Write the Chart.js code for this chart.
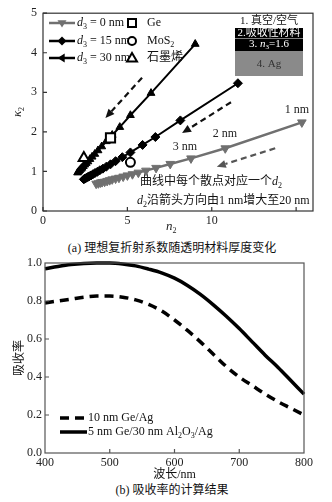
<!DOCTYPE html>
<html>
<head>
<meta charset="utf-8">
<script src="https://cdn.jsdelivr.net/npm/chart.js@4.4.1/dist/chart.umd.min.js"></script>
<style>
  body { margin: 0; background: #fff; width: 332px; height: 502px; position: relative; overflow: hidden;
         font-family: "Liberation Serif", "Noto Sans CJK SC", serif; color: #111; }
  canvas { position: absolute; left: 0; }
  #chartA { top: 0; }
  #chartB { top: 250px; }
  .cap { position: absolute; left: 6px; width: 332px; text-align: center; font-size: 12px; line-height: 14px; }
</style>
</head>
<body>
<div class="cap" style="top:241px">(a) 理想复折射系数随透明材料厚度变化</div>
<div class="cap" style="top:483px">(b) 吸收率的计算结果</div>
<canvas id="chartA" width="332" height="240"></canvas>
<canvas id="chartB" width="332" height="235"></canvas>
<script>
const serif = '"Liberation Serif", "Noto Sans CJK SC", serif';

// (a) n2 / k2 for d2 = 1 ... 20 nm, one pair of arrays per d3
const n2_d0 = [15.34, 10.8, 8.77, 7.54, 6.7, 6.1, 5.65, 5.3, 5.0, 4.75, 4.5, 4.3, 4.1, 3.95, 3.8, 3.65, 3.5, 3.4, 3.28, 3.15];
const k2_d0 = [2.24, 1.585, 1.33, 1.19, 1.09, 1.02, 0.97, 0.93, 0.9, 0.87, 0.84, 0.82, 0.8, 0.78, 0.76, 0.74, 0.73, 0.72, 0.7, 0.69];
const n2_d15 = [11.55, 8.14, 6.66, 5.9, 5.18, 4.7, 4.3, 4.0, 3.75, 3.55, 3.37, 3.22, 3.08, 2.96, 2.85, 2.75, 2.66, 2.57, 2.49, 2.42];
const k2_d15 = [3.23, 2.29, 1.87, 1.67, 1.48, 1.36, 1.26, 1.18, 1.12, 1.07, 1.03, 0.99, 0.96, 0.93, 0.9, 0.88, 0.86, 0.84, 0.82, 0.8];
const n2_d30 = [9.02, 6.4, 5.18, 4.55, 4.1, 3.75, 3.48, 3.26, 3.07, 2.91, 2.78, 2.66, 2.56, 2.47, 2.39, 2.31, 2.24, 2.17, 2.11, 2.05];
const k2_d30 = [4.22, 2.98, 2.42, 2.12, 1.92, 1.76, 1.63, 1.53, 1.44, 1.37, 1.31, 1.25, 1.21, 1.17, 1.13, 1.09, 1.06, 1.03, 1.0, 0.97];

// real materials
const materials = ["Ge", "MoS2", "石墨烯"];
const matN = [4.0, 5.18, 2.42];
const matK = [1.85, 1.23, 1.34];

// (b) absorbance vs wavelength
const wavelength = [400, 420, 440, 460, 480, 500, 520, 540, 560, 580, 600, 620, 640, 660, 680, 700, 720, 740, 760, 780, 800];
const absGeAg = [0.79, 0.8, 0.81, 0.82, 0.826, 0.826, 0.82, 0.806, 0.782, 0.748, 0.7, 0.645, 0.585, 0.52, 0.455, 0.4, 0.355, 0.31, 0.27, 0.235, 0.2];
const absGeAlAg = [0.97, 0.982, 0.992, 0.998, 1.0, 1.0, 0.995, 0.985, 0.968, 0.948, 0.92, 0.882, 0.835, 0.78, 0.72, 0.655, 0.585, 0.515, 0.45, 0.38, 0.31];

const pts = (xs, ys) => xs.map((v, i) => ({ x: v, y: ys[i] }));

// text with italic / subscript pieces: [text, 'i' | 's' | '']
function rich(ctx, parts, x, y, size, color, center) {
  const fonts = parts.map(([t, f]) =>
    (f === "i" ? "italic " : "") + (f === "s" ? Math.round(size * 0.65) : size) + "px " + serif);
  let w = 0;
  parts.forEach(([t], i) => { ctx.font = fonts[i]; w += ctx.measureText(t).width; });
  let cx = center ? x - w / 2 : x;
  ctx.fillStyle = color;
  ctx.textBaseline = "middle";
  ctx.textAlign = "left";
  parts.forEach(([t, f], i) => {
    ctx.font = fonts[i];
    ctx.fillText(t, cx, f === "s" ? y + size * 0.3 : y);
    cx += ctx.measureText(t).width;
  });
}

function marker(ctx, style, x, y, r, fill, stroke, lw) {
  ctx.save();
  ctx.beginPath();
  if (style === "rect") ctx.rect(x - r, y - r, 2 * r, 2 * r);
  else if (style === "circle") ctx.arc(x, y, r, 0, Math.PI * 2);
  else if (style === "diamond") {
    ctx.moveTo(x, y - r); ctx.lineTo(x + r, y); ctx.lineTo(x, y + r); ctx.lineTo(x - r, y); ctx.closePath();
  } else if (style === "down") {
    ctx.moveTo(x - r, y - r * 0.6); ctx.lineTo(x + r, y - r * 0.6); ctx.lineTo(x, y + r); ctx.closePath();
  } else if (style === "up") {
    ctx.moveTo(x - r, y + r * 0.7); ctx.lineTo(x + r, y + r * 0.7); ctx.lineTo(x, y - r); ctx.closePath();
  } else if (style === "left") {
    ctx.moveTo(x + r * 0.6, y - r); ctx.lineTo(x + r * 0.6, y + r); ctx.lineTo(x - r, y); ctx.closePath();
  }
  if (fill) { ctx.fillStyle = fill; ctx.fill(); }
  if (stroke) { ctx.strokeStyle = stroke; ctx.lineWidth = lw; ctx.stroke(); }
  ctx.restore();
}

function dashedArrow(ctx, x1, y1, x2, y2, color) {
  const ang = Math.atan2(y2 - y1, x2 - x1);
  const bx = x2 - 9 * Math.cos(ang), by = y2 - 9 * Math.sin(ang);
  ctx.save();
  ctx.strokeStyle = color;
  ctx.lineWidth = 2.2;
  ctx.setLineDash([6, 4]);
  ctx.beginPath(); ctx.moveTo(x1, y1); ctx.lineTo(bx, by); ctx.stroke();
  ctx.setLineDash([]);
  ctx.fillStyle = color;
  ctx.beginPath();
  ctx.moveTo(x2, y2);
  ctx.lineTo(bx + 4 * Math.sin(ang), by - 4 * Math.cos(ang));
  ctx.lineTo(bx - 4 * Math.sin(ang), by + 4 * Math.cos(ang));
  ctx.closePath(); ctx.fill();
  ctx.restore();
}

function frameAndTicks(ctx, a, x, y, xTicks, yTicks, color) {
  ctx.save();
  ctx.strokeStyle = color;
  ctx.lineWidth = 1.2;
  ctx.strokeRect(a.left, a.top, a.right - a.left, a.bottom - a.top);
  ctx.beginPath();
  xTicks.forEach((v) => { const px = x.getPixelForValue(v); ctx.moveTo(px, a.bottom); ctx.lineTo(px, a.bottom - 4); });
  yTicks.forEach((v) => { const py = y.getPixelForValue(v); ctx.moveTo(a.left, py); ctx.lineTo(a.left + 4, py); });
  ctx.stroke();
  ctx.restore();
}

const arrowsA = [
  { from: [5.87, 3.37], to: [3.7, 2.35], color: "#111" },
  { from: [11.14, 2.75], to: [8.24, 1.97], color: "#111" },
  { from: [13.76, 1.585], to: [10.3, 1.12], color: "#555" },
];

const decorA = {
  id: "decorA",
  afterDraw(chart) {
    const { ctx, chartArea: a, scales: { x, y } } = chart;
    frameAndTicks(ctx, a, x, y, [0, 5, 10, 15], [0, 1, 2, 3, 4, 5], "#333");

    // axis titles
    rich(ctx, [["n", "i"], ["2", "s"]], 166, 227, 13, "#222", false);
    ctx.save();
    ctx.translate(18, 112);
    ctx.rotate(-Math.PI / 2);
    rich(ctx, [["κ", "i"], ["2", "s"]], 0, 0, 13, "#222", true);
    ctx.restore();

    arrowsA.forEach((ar) => dashedArrow(ctx,
      x.getPixelForValue(ar.from[0]), y.getPixelForValue(ar.from[1]),
      x.getPixelForValue(ar.to[0]), y.getPixelForValue(ar.to[1]), ar.color));

    // thickness labels next to the first points of the d3 = 0 curve
    ctx.font = "12px " + serif;
    ctx.fillStyle = "#222";
    ctx.textAlign = "center";
    ctx.textBaseline = "middle";
    ctx.fillText("1 nm", 297, 110);
    ctx.fillText("2 nm", 225, 134);
    ctx.fillText("3 nm", 185, 147);

    rich(ctx, [["曲线中每个散点对应一个", ""], ["d", "i"], ["2", "s"]], 140, 182, 12, "#111", false);
    rich(ctx, [["d", "i"], ["2", "s"], ["沿箭头方向由1 nm增大至20 nm", ""]], 137, 201, 12, "#111", false);

    // legend
    const rows = [
      { y: 23, color: "#707070", style: "down", label: "0 nm", mat: "rect", matLabel: [["Ge", ""]] },
      { y: 41, color: "#000", style: "diamond", label: "15 nm", mat: "circle", matLabel: [["MoS", ""], ["2", "s"]] },
      { y: 58, color: "#000", style: "left", label: "30 nm", mat: "up", matLabel: [["石墨烯", ""]] },
    ];
    rows.forEach((r) => {
      ctx.save();
      ctx.strokeStyle = r.color;
      ctx.lineWidth = 2.5;
      ctx.beginPath(); ctx.moveTo(49, r.y); ctx.lineTo(75, r.y); ctx.stroke();
      ctx.restore();
      marker(ctx, r.style, 62, r.y, 4.5, r.color, null, 0);
      rich(ctx, [["d", "i"], ["3", "s"], [" = " + r.label, ""]], 77, r.y, 12, "#111", false);
      marker(ctx, r.mat, 132, r.y, r.mat === "up" ? 5 : 4, "#fff", "#000", 2);
      rich(ctx, r.matLabel, 147, r.y, 12, "#111", false);
    });

    // layer stack
    ctx.save();
    ctx.fillStyle = "#000";
    ctx.fillRect(235, 28, 68, 10);
    ctx.fillRect(235, 38.5, 68, 12.5);
    ctx.fillStyle = "#8a8a8a";
    ctx.fillRect(235, 51, 68, 25);
    ctx.font = "11px " + serif;
    ctx.textAlign = "center";
    ctx.textBaseline = "middle";
    ctx.fillStyle = "#111";
    ctx.fillText("1. 真空/空气", 269, 21);
    ctx.fillStyle = "#fff";
    ctx.fillText("2.吸收性材料", 269, 33);
    ctx.fillStyle = "#333";
    ctx.fillText("4. Ag", 269, 64);
    ctx.restore();
    rich(ctx, [["3. ", ""], ["n", "i"], ["3", "s"], ["=1.6", ""]], 269, 44, 11, "#fff", true);
  },
};

const tickFont = { family: serif, size: 12 };

new Chart(document.getElementById("chartA").getContext("2d"), {
  type: "scatter",
  data: {
    datasets: [
      { data: pts([matN[0]], [matK[0]]), pointStyle: "rect", pointRadius: 6.5, borderColor: "#000", backgroundColor: "#fff", borderWidth: 2, order: 0 },
      { data: pts([matN[1]], [matK[1]]), pointStyle: "circle", pointRadius: 4.5, borderColor: "#000", backgroundColor: "#fff", borderWidth: 2, order: 0 },
      { data: pts([matN[2]], [matK[2]]), pointStyle: "triangle", pointRadius: 6, borderColor: "#000", backgroundColor: "#fff", borderWidth: 2, order: 0 },
      { data: pts(n2_d30, k2_d30), showLine: true, borderColor: "#000", backgroundColor: "#000", borderWidth: 2,
        pointStyle: "triangle", pointRadius: 4.5, pointBorderWidth: 1, order: 1 },
      { data: pts(n2_d15, k2_d15), showLine: true, borderColor: "#000", backgroundColor: "#000", borderWidth: 2,
        pointStyle: "rectRot", pointRadius: 4.5, pointBorderWidth: 1, order: 1 },
      { data: pts(n2_d0, k2_d0), showLine: true, borderColor: "#707070", backgroundColor: "#707070", borderWidth: 2.5,
        pointStyle: "triangle", rotation: 180, pointRadius: 5, pointBorderWidth: 1, order: 1 },
    ],
  },
  options: {
    responsive: false,
    animation: false,
    events: [],
    layout: { padding: { top: 12, right: 19, left: 0, bottom: 0 } },
    plugins: { legend: { display: false }, tooltip: { enabled: false } },
    scales: {
      x: {
        type: "linear", min: 0, max: 16,
        ticks: { stepSize: 5, font: tickFont, color: "#222", padding: 3, maxRotation: 0,
                 callback: (v) => (v % 5 === 0 ? v : "") },
        grid: { display: false, drawTicks: false },
        border: { display: false },
        afterFit: (s) => { s.height = 29; },
      },
      y: {
        min: 0, max: 5,
        ticks: { stepSize: 1, font: tickFont, color: "#222", padding: 6 },
        grid: { display: false, drawTicks: false },
        border: { display: false },
        afterFit: (s) => { s.width = 43; },
      },
    },
  },
  plugins: [decorA],
});

const decorB = {
  id: "decorB",
  afterDraw(chart) {
    const { ctx, chartArea: a, scales: { x, y } } = chart;
    frameAndTicks(ctx, a, x, y, [500, 600, 700], [0.2, 0.4, 0.6, 0.8], "#555");

    ctx.save();
    ctx.strokeStyle = "#000";
    ctx.lineWidth = 3.5;
    ctx.setLineDash([9, 6]);
    ctx.beginPath(); ctx.moveTo(60, 168); ctx.lineTo(84, 168); ctx.stroke();
    ctx.setLineDash([]);
    ctx.beginPath(); ctx.moveTo(60, 182); ctx.lineTo(87, 182); ctx.stroke();
    ctx.restore();
    rich(ctx, [["10 nm Ge/Ag", ""]], 88, 168, 12, "#111", false);
    rich(ctx, [["5 nm Ge/30 nm Al", ""], ["2", "s"], ["O", ""], ["3", "s"], ["/Ag", ""]], 88, 182, 12, "#111", false);
  },
};

new Chart(document.getElementById("chartB").getContext("2d"), {
  type: "line",
  data: {
    datasets: [
      { label: "10 nm Ge/Ag", data: pts(wavelength, absGeAg), borderColor: "#000", borderWidth: 3.5,
        borderDash: [9, 6], pointRadius: 0, cubicInterpolationMode: "monotone", clip: false },
      { label: "5 nm Ge/30 nm Al2O3/Ag", data: pts(wavelength, absGeAlAg), borderColor: "#000", borderWidth: 3.5,
        pointRadius: 0, cubicInterpolationMode: "monotone", clip: false },
    ],
  },
  options: {
    responsive: false,
    animation: false,
    events: [],
    layout: { padding: { top: 13, right: 28, left: 0, bottom: 0 } },
    plugins: { legend: { display: false }, tooltip: { enabled: false } },
    scales: {
      x: {
        type: "linear", min: 400, max: 800,
        ticks: { stepSize: 100, font: tickFont, color: "#222", padding: 3, maxRotation: 0 },
        grid: { display: false, drawTicks: false },
        border: { display: false },
        title: { display: true, text: "波长/nm", font: { family: serif, size: 12 }, color: "#111", padding: { top: 0, bottom: 3 } },
        afterFit: (s) => { s.height = 32; },
      },
      y: {
        min: 0, max: 1,
        ticks: { stepSize: 0.2, font: tickFont, color: "#222", padding: 3, callback: (v) => v.toFixed(1) },
        grid: { display: false, drawTicks: false },
        border: { display: false },
        title: { display: true, text: "吸收率", font: { family: serif, size: 12 }, color: "#111", padding: { top: 13, bottom: 0 } },
        afterFit: (s) => { s.width = 45; },
      },
    },
  },
  plugins: [decorB],
});
</script>
</body>
</html>
